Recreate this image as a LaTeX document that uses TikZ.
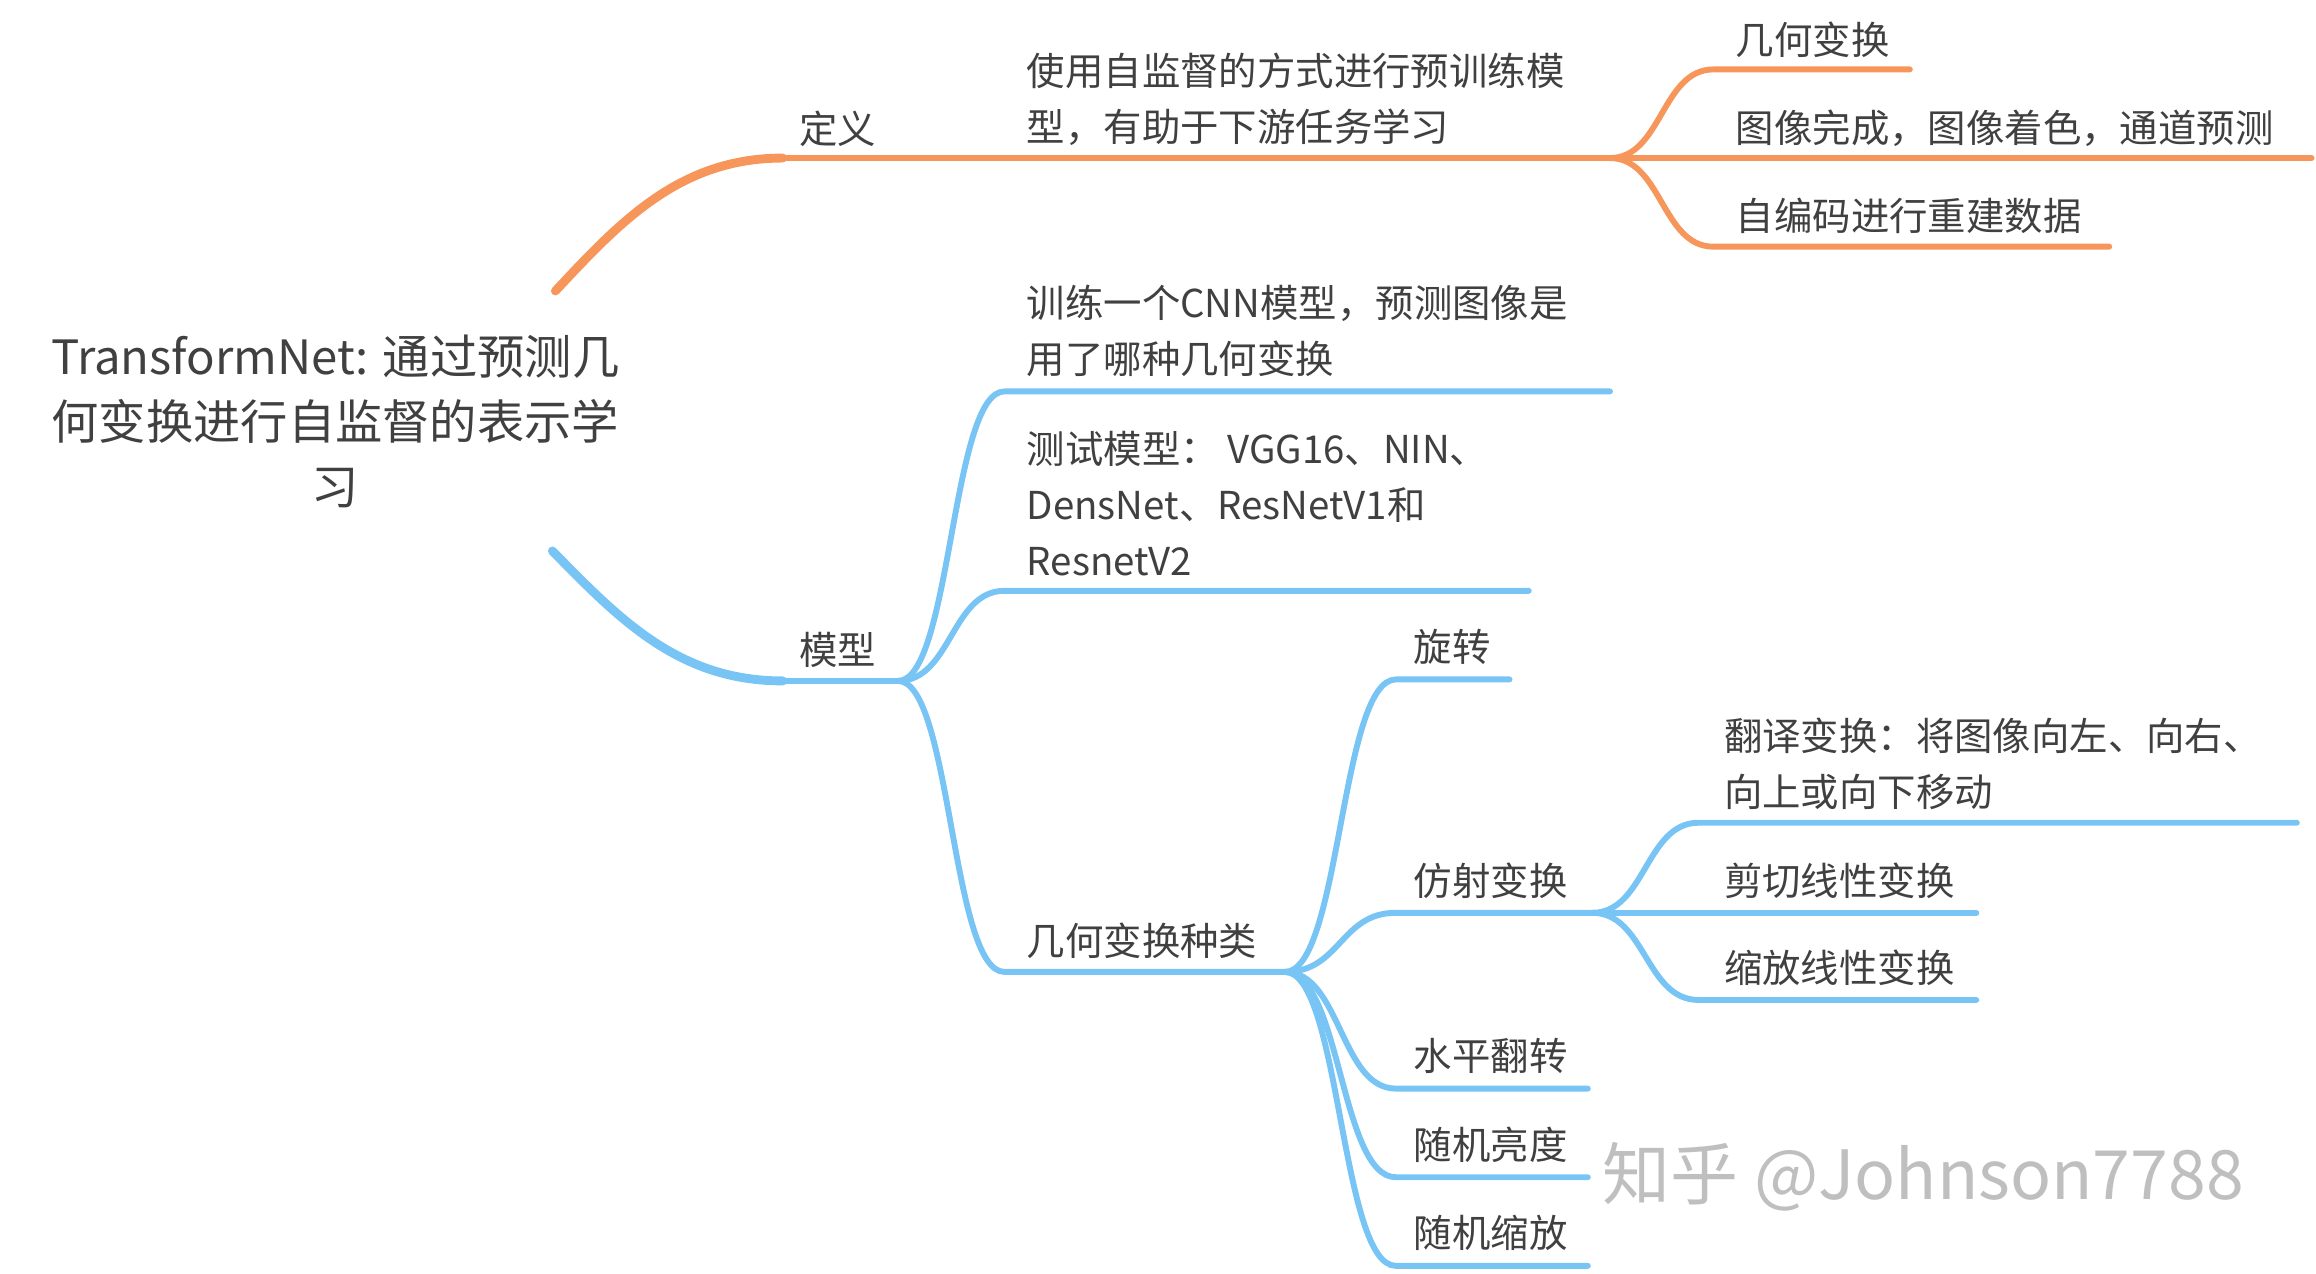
\documentclass[tikz,border=0pt]{standalone}
\usepackage{fontspec}
\setmainfont{Noto Sans CJK SC}
\usetikzlibrary{calc}
\begin{document}
\begin{tikzpicture}[x=1pt,y=-1pt,
  txt/.style={anchor=west,inner sep=0pt,text=black!75,font=\fontsize{26}{38}\selectfont,align=left},
  org/.style={line width=4pt,line cap=round,color={rgb,255:red,247;green,150;blue,90}},
  blu/.style={line width=4pt,line cap=round,color={rgb,255:red,120;green,196;blue,245}},
  br/.style={to path={(\tikztostart) .. controls ($(\tikztostart)!0.5!(\tikztotarget|-\tikztostart)$) and ($(\tikztotarget)!0.5!(\tikztostart|-\tikztotarget)$) .. (\tikztotarget)}}]
\useasboundingbox (0,0) rectangle (1568,862);
% root
\node[txt,anchor=center,align=center,font=\fontsize{32}{44}\selectfont] (root) at (227,285) {TransformNet: 通过预测几\\何变换进行自监督的表示学\\习};
% orange
\coordinate (o0) at (376,197); \coordinate (o1) at (530,107); \coordinate (o2) at (605,107); \coordinate (o3) at (1090,107);
\draw[org,line width=6pt] (o0) .. controls (420,150) and (460,107) .. (o1);
\draw[org] (o1) -- (o2) -- (o3);
\node[txt] (def) at (541,87) {定义};
\node[txt] (defd) at (695,67) {使用自监督的方式进行预训练模\\型，有助于下游任务学习};
\coordinate (oa) at (1160,47); \coordinate (oa2) at (1293,47);
\coordinate (ob) at (1565,107);
\coordinate (oc) at (1160,167); \coordinate (oc2) at (1428,167);
\draw[org] (o3) to[br] (oa) -- (oa2);
\draw[org] (o3) -- (ob);
\draw[org] (o3) to[br] (oc) -- (oc2);
\node[txt] (ta) at (1175,27) {几何变换};
\node[txt] (tb) at (1175,87) {图像完成，图像着色，通道预测};
\node[txt] (tc) at (1175,146) {自编码进行重建数据};
% blue
\coordinate (b0) at (374,373); \coordinate (b1) at (530,461); \coordinate (b2) at (608,461);
\draw[blu,line width=6pt] (b0) .. controls (420,420) and (460,461) .. (b1);
\draw[blu] (b1) -- (b2);
\node[txt] (mx) at (541,440) {模型};
\coordinate (m1) at (680,265); \coordinate (m1e) at (1090,265);
\coordinate (m2) at (680,400); \coordinate (m2e) at (1035,400);
\coordinate (m3) at (680,658); \coordinate (m3e) at (870,658);
\draw[blu] (b2) to[br] (m1) -- (m1e);
\draw[blu] (b2) to[br] (m2) -- (m2e);
\draw[blu] (b2) to[br] (m3) -- (m3e);
\node[txt] (t1) at (695,224) {训练一个CNN模型，预测图像是\\用了哪种几何变换};
\node[txt] (t2) at (695,341) {测试模型：~VGG16、NIN、\\DensNet、ResNetV1和\\ResnetV2};
\node[txt] (t3) at (695,637) {几何变换种类};
\foreach \n/\y/\e/\t in {g1/460/1022/旋转, g2/618/1078/仿射变换, g3/737/1075/水平翻转, g4/797/1075/随机亮度, g5/857/1075/随机缩放}{
  \coordinate (\n) at (945,\y); \coordinate (\n e) at (\e,\y);
  \draw[blu] (m3e) to[br] (\n) -- (\n e);
  \node[txt] (\n t) at (957,\y-22) {\t};
}
\coordinate (h1) at (1150,557); \coordinate (h1e) at (1555,557);
\coordinate (h2e) at (1338,618);
\coordinate (h3) at (1150,677); \coordinate (h3e) at (1338,677);
\draw[blu] (g2e) to[br] (h1) -- (h1e);
\draw[blu] (g2e) -- (h2e);
\draw[blu] (g2e) to[br] (h3) -- (h3e);
\node[txt] (u1) at (1167,517) {翻译变换：将图像向左、向右、\\向上或向下移动};
\node[txt] (u2) at (1167,596) {剪切线性变换};
\node[txt] (u3) at (1167,655) {缩放线性变换};
% watermark
\node[txt,text=black!25,font=\fontsize{46}{50}\selectfont] (wm) at (1085,797) {知乎 @Johnson7788};
\end{tikzpicture}
\end{document}
